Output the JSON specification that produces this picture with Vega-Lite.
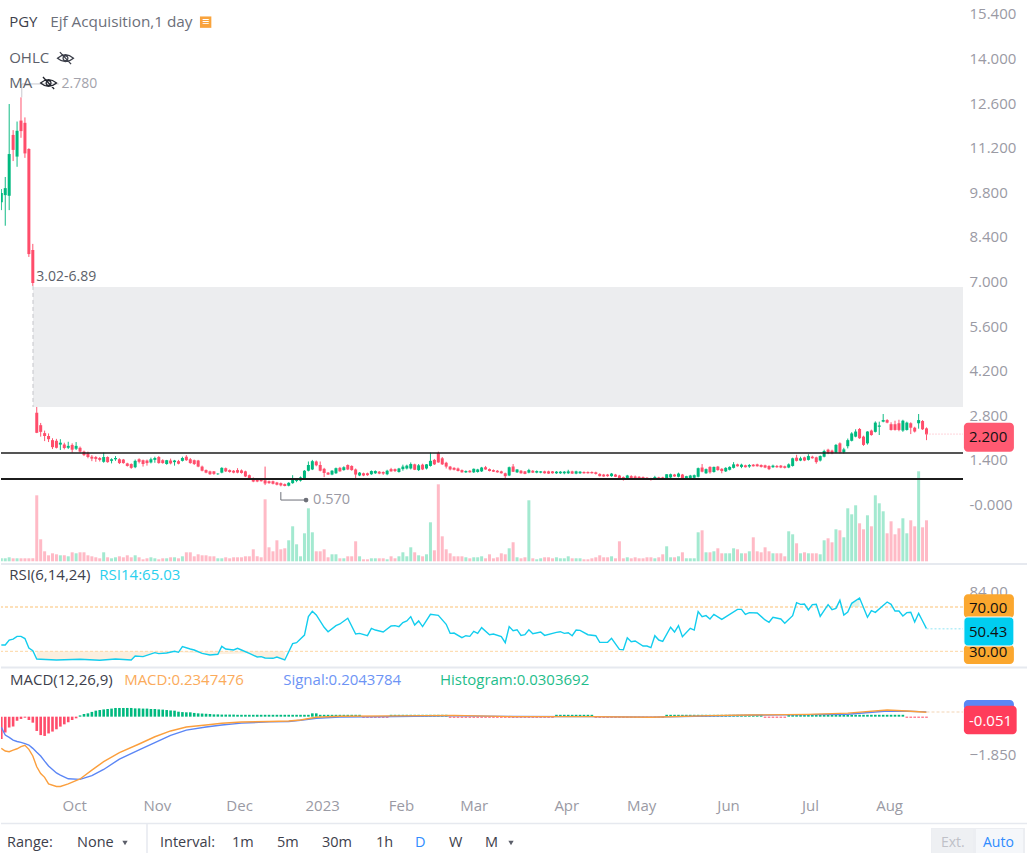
{
"$schema":"https://vega.github.io/schema/vega-lite/v6.json",
"padding":0,
"background":"white",
"spacing":0,
"bounds":"flush",
"config":{"view":{"stroke":null},"font":"Open Sans","scale":{"continuousPadding":0},
"axis":{"domain":false,"ticks":false,"grid":false,"labels":false,"title":null,"labelFont":"Open Sans","labelFontSize":15,"labelColor":"#9a9aa4"}},
"datasets":{
"candles":[
{"i":0,"o":9.49,"h":9.9,"l":9.24,"c":9.78,"v":3,"hist":-1.08},
{"i":1,"o":9.71,"h":10.28,"l":8.75,"c":9.93,"v":3,"hist":-0.76},
{"i":2,"o":9.69,"h":12.57,"l":9.24,"c":11.0,"v":4,"hist":-0.52},
{"i":3,"o":11.6,"h":11.75,"l":10.78,"c":11.13,"v":3,"hist":-0.48},
{"i":4,"o":10.92,"h":12.02,"l":10.6,"c":11.73,"v":3,"hist":-0.2},
{"i":5,"o":12.05,"h":12.78,"l":11.51,"c":11.72,"v":3,"hist":-0.11},
{"i":6,"o":11.98,"h":12.15,"l":10.88,"c":11.02,"v":3,"hist":-0.05},
{"i":7,"o":11.16,"h":11.18,"l":7.77,"c":7.86,"v":3,"hist":-0.16},
{"i":8,"o":7.99,"h":8.18,"l":6.86,"c":6.95,"v":3,"hist":-0.29},
{"i":9,"o":2.88,"h":3.06,"l":2.24,"c":2.25,"v":66,"hist":-0.69},
{"i":10,"o":2.49,"h":2.56,"l":2.13,"c":2.28,"v":22,"hist":-0.89},
{"i":11,"o":2.24,"h":2.32,"l":1.99,"c":2.15,"v":10,"hist":-0.93},
{"i":12,"o":2.15,"h":2.23,"l":1.96,"c":2.05,"v":6,"hist":-0.81},
{"i":13,"o":2.02,"h":2.08,"l":1.74,"c":1.8,"v":8,"hist":-0.72},
{"i":14,"o":2.0,"h":2.06,"l":1.76,"c":1.78,"v":7,"hist":-0.61},
{"i":15,"o":1.88,"h":2.05,"l":1.71,"c":1.94,"v":6,"hist":-0.48},
{"i":16,"o":1.88,"h":1.94,"l":1.73,"c":1.77,"v":6,"hist":-0.37},
{"i":17,"o":1.78,"h":1.97,"l":1.74,"c":1.84,"v":5,"hist":-0.27},
{"i":18,"o":1.87,"h":1.92,"l":1.63,"c":1.72,"v":9,"hist":-0.16},
{"i":19,"o":1.75,"h":1.96,"l":1.71,"c":1.84,"v":8,"hist":-0.08},
{"i":20,"o":1.78,"h":1.82,"l":1.63,"c":1.66,"v":9,"hist":0.06},
{"i":21,"o":1.66,"h":1.69,"l":1.52,"c":1.55,"v":9,"hist":0.13},
{"i":22,"o":1.61,"h":1.66,"l":1.45,"c":1.49,"v":6,"hist":0.16},
{"i":23,"o":1.5,"h":1.55,"l":1.36,"c":1.44,"v":5,"hist":0.23},
{"i":24,"o":1.49,"h":1.52,"l":1.34,"c":1.43,"v":4,"hist":0.29},
{"i":25,"o":1.46,"h":1.49,"l":1.35,"c":1.4,"v":3,"hist":0.32},
{"i":26,"o":1.34,"h":1.63,"l":1.31,"c":1.49,"v":9,"hist":0.35},
{"i":27,"o":1.49,"h":1.51,"l":1.31,"c":1.33,"v":4,"hist":0.37},
{"i":28,"o":1.37,"h":1.45,"l":1.29,"c":1.42,"v":3,"hist":0.39},
{"i":29,"o":1.42,"h":1.52,"l":1.37,"c":1.46,"v":4,"hist":0.42},
{"i":30,"o":1.42,"h":1.45,"l":1.27,"c":1.3,"v":5,"hist":0.42},
{"i":31,"o":1.41,"h":1.43,"l":1.28,"c":1.3,"v":4,"hist":0.42},
{"i":32,"o":1.29,"h":1.31,"l":1.19,"c":1.21,"v":6,"hist":0.42},
{"i":33,"o":1.27,"h":1.29,"l":1.12,"c":1.15,"v":4,"hist":0.42},
{"i":34,"o":1.17,"h":1.41,"l":1.14,"c":1.37,"v":6,"hist":0.4},
{"i":35,"o":1.42,"h":1.45,"l":1.29,"c":1.34,"v":4,"hist":0.4},
{"i":36,"o":1.39,"h":1.41,"l":1.19,"c":1.27,"v":2,"hist":0.39},
{"i":37,"o":1.38,"h":1.41,"l":1.22,"c":1.3,"v":3,"hist":0.39},
{"i":38,"o":1.32,"h":1.47,"l":1.29,"c":1.42,"v":4,"hist":0.37},
{"i":39,"o":1.4,"h":1.5,"l":1.31,"c":1.46,"v":3,"hist":0.37},
{"i":40,"o":1.49,"h":1.52,"l":1.28,"c":1.3,"v":2,"hist":0.35},
{"i":41,"o":1.39,"h":1.42,"l":1.28,"c":1.3,"v":3,"hist":0.34},
{"i":42,"o":1.27,"h":1.4,"l":1.25,"c":1.39,"v":3,"hist":0.32},
{"i":43,"o":1.38,"h":1.44,"l":1.26,"c":1.29,"v":4,"hist":0.3},
{"i":44,"o":1.33,"h":1.4,"l":1.22,"c":1.38,"v":4,"hist":0.29},
{"i":45,"o":1.36,"h":1.4,"l":1.26,"c":1.28,"v":3,"hist":0.24},
{"i":46,"o":1.37,"h":1.5,"l":1.35,"c":1.46,"v":5,"hist":0.22},
{"i":47,"o":1.5,"h":1.55,"l":1.37,"c":1.39,"v":9,"hist":0.21},
{"i":48,"o":1.42,"h":1.46,"l":1.28,"c":1.3,"v":9,"hist":0.21},
{"i":49,"o":1.39,"h":1.41,"l":1.24,"c":1.27,"v":5,"hist":0.18},
{"i":50,"o":1.38,"h":1.4,"l":1.17,"c":1.19,"v":7,"hist":0.16},
{"i":51,"o":1.19,"h":1.22,"l":1.04,"c":1.06,"v":6,"hist":0.15},
{"i":52,"o":1.08,"h":1.1,"l":0.98,"c":1.0,"v":6,"hist":0.14},
{"i":53,"o":1.04,"h":1.06,"l":0.93,"c":0.95,"v":5,"hist":0.13},
{"i":54,"o":1.04,"h":1.05,"l":0.93,"c":0.96,"v":5,"hist":0.11},
{"i":55,"o":0.95,"h":0.98,"l":0.93,"c":0.97,"v":3,"hist":0.11},
{"i":56,"o":1.0,"h":1.17,"l":0.98,"c":1.15,"v":3,"hist":0.1},
{"i":57,"o":1.14,"h":1.16,"l":1.02,"c":1.04,"v":4,"hist":0.1},
{"i":58,"o":1.08,"h":1.1,"l":1.0,"c":1.02,"v":3,"hist":0.1},
{"i":59,"o":1.06,"h":1.08,"l":0.98,"c":1.0,"v":4,"hist":0.1},
{"i":60,"o":1.08,"h":1.14,"l":0.98,"c":1.0,"v":4,"hist":0.09},
{"i":61,"o":1.07,"h":1.1,"l":0.97,"c":0.99,"v":4,"hist":0.09},
{"i":62,"o":1.04,"h":1.06,"l":0.86,"c":0.88,"v":5,"hist":0.09},
{"i":63,"o":0.92,"h":0.94,"l":0.78,"c":0.8,"v":5,"hist":0.09},
{"i":64,"o":0.83,"h":0.85,"l":0.7,"c":0.72,"v":12,"hist":0.09},
{"i":65,"o":0.8,"h":0.82,"l":0.7,"c":0.72,"v":5,"hist":0.09},
{"i":66,"o":0.77,"h":0.8,"l":0.72,"c":0.73,"v":4,"hist":0.09},
{"i":67,"o":0.76,"h":1.19,"l":0.61,"c":0.66,"v":62,"hist":0.09},
{"i":68,"o":0.73,"h":0.75,"l":0.65,"c":0.67,"v":14,"hist":0.09},
{"i":69,"o":0.73,"h":0.75,"l":0.63,"c":0.65,"v":10,"hist":0.09},
{"i":70,"o":0.69,"h":0.71,"l":0.6,"c":0.62,"v":21,"hist":0.09},
{"i":71,"o":0.67,"h":0.69,"l":0.57,"c":0.6,"v":12,"hist":0.09},
{"i":72,"o":0.64,"h":0.66,"l":0.57,"c":0.58,"v":13,"hist":0.09},
{"i":73,"o":0.59,"h":0.7,"l":0.57,"c":0.68,"v":21,"hist":0.09},
{"i":74,"o":0.67,"h":0.92,"l":0.65,"c":0.77,"v":35,"hist":0.09},
{"i":75,"o":0.74,"h":0.82,"l":0.7,"c":0.8,"v":17,"hist":0.09},
{"i":76,"o":0.75,"h":0.88,"l":0.72,"c":0.85,"v":5,"hist":0.09},
{"i":77,"o":0.8,"h":1.08,"l":0.78,"c":1.06,"v":28,"hist":0.09},
{"i":78,"o":1.06,"h":1.35,"l":1.04,"c":1.24,"v":53,"hist":0.09},
{"i":79,"o":1.1,"h":1.4,"l":1.08,"c":1.36,"v":29,"hist":0.16},
{"i":80,"o":1.35,"h":1.38,"l":1.2,"c":1.23,"v":10,"hist":0.16},
{"i":81,"o":1.24,"h":1.35,"l":1.04,"c":1.06,"v":10,"hist":0.09},
{"i":82,"o":1.12,"h":1.15,"l":0.86,"c":0.99,"v":12,"hist":0.09},
{"i":83,"o":1.0,"h":1.02,"l":0.93,"c":0.94,"v":4,"hist":0.09},
{"i":84,"o":0.94,"h":1.08,"l":0.92,"c":1.06,"v":7,"hist":0.09},
{"i":85,"o":0.98,"h":1.16,"l":0.96,"c":1.14,"v":7,"hist":0.09},
{"i":86,"o":1.15,"h":1.18,"l":1.03,"c":1.04,"v":3,"hist":0.09},
{"i":87,"o":1.08,"h":1.2,"l":1.06,"c":1.17,"v":3,"hist":0.09},
{"i":88,"o":1.24,"h":1.26,"l":1.08,"c":1.1,"v":5,"hist":0.09},
{"i":89,"o":1.21,"h":1.23,"l":1.06,"c":1.08,"v":5,"hist":0.09},
{"i":90,"o":1.1,"h":1.13,"l":0.81,"c":0.94,"v":20,"hist":0.09},
{"i":91,"o":0.91,"h":1.02,"l":0.89,"c":1.0,"v":5,"hist":0.09},
{"i":92,"o":0.98,"h":1.0,"l":0.89,"c":0.91,"v":2,"hist":-0.05},
{"i":93,"o":0.98,"h":1.0,"l":0.9,"c":0.92,"v":2,"hist":-0.05},
{"i":94,"o":0.95,"h":1.07,"l":0.93,"c":1.05,"v":3,"hist":-0.05},
{"i":95,"o":0.98,"h":1.07,"l":0.96,"c":1.05,"v":3,"hist":-0.05},
{"i":96,"o":1.03,"h":1.05,"l":0.95,"c":0.97,"v":3,"hist":-0.05},
{"i":97,"o":1.02,"h":1.04,"l":0.93,"c":0.97,"v":3,"hist":-0.05},
{"i":98,"o":0.95,"h":1.09,"l":0.92,"c":1.06,"v":2,"hist":-0.05},
{"i":99,"o":1.11,"h":1.15,"l":1.03,"c":1.04,"v":5,"hist":0.09},
{"i":100,"o":1.11,"h":1.13,"l":1.02,"c":1.05,"v":3,"hist":0.09},
{"i":101,"o":1.02,"h":1.15,"l":1.0,"c":1.13,"v":5,"hist":0.09},
{"i":102,"o":1.11,"h":1.25,"l":1.06,"c":1.19,"v":9,"hist":0.09},
{"i":103,"o":1.13,"h":1.25,"l":1.1,"c":1.22,"v":5,"hist":0.09},
{"i":104,"o":1.13,"h":1.32,"l":1.1,"c":1.27,"v":14,"hist":0.09},
{"i":105,"o":1.26,"h":1.28,"l":1.08,"c":1.09,"v":9,"hist":0.09},
{"i":106,"o":1.08,"h":1.27,"l":1.05,"c":1.23,"v":6,"hist":0.09},
{"i":107,"o":1.25,"h":1.28,"l":1.08,"c":1.1,"v":5,"hist":0.09},
{"i":108,"o":1.13,"h":1.27,"l":1.1,"c":1.26,"v":7,"hist":0.09},
{"i":109,"o":1.21,"h":1.63,"l":1.19,"c":1.37,"v":39,"hist":0.09},
{"i":110,"o":1.4,"h":1.43,"l":1.24,"c":1.26,"v":11,"hist":0.09},
{"i":111,"o":1.61,"h":1.66,"l":1.31,"c":1.32,"v":77,"hist":0.09},
{"i":112,"o":1.45,"h":1.49,"l":1.24,"c":1.26,"v":25,"hist":0.09},
{"i":113,"o":1.31,"h":1.34,"l":1.13,"c":1.19,"v":12,"hist":0.09},
{"i":114,"o":1.19,"h":1.21,"l":1.07,"c":1.1,"v":8,"hist":-0.05},
{"i":115,"o":1.15,"h":1.17,"l":1.07,"c":1.09,"v":5,"hist":-0.05},
{"i":116,"o":1.13,"h":1.16,"l":1.04,"c":1.05,"v":5,"hist":-0.05},
{"i":117,"o":1.08,"h":1.1,"l":1.0,"c":1.01,"v":5,"hist":-0.05},
{"i":118,"o":1.01,"h":1.07,"l":0.99,"c":1.05,"v":4,"hist":-0.05},
{"i":119,"o":1.06,"h":1.08,"l":1.0,"c":1.01,"v":3,"hist":-0.05},
{"i":120,"o":1.01,"h":1.13,"l":0.99,"c":1.12,"v":4,"hist":-0.05},
{"i":121,"o":1.02,"h":1.12,"l":1.0,"c":1.1,"v":4,"hist":-0.05},
{"i":122,"o":1.04,"h":1.18,"l":1.02,"c":1.16,"v":5,"hist":-0.05},
{"i":123,"o":1.17,"h":1.21,"l":1.09,"c":1.1,"v":3,"hist":-0.05},
{"i":124,"o":1.11,"h":1.13,"l":1.04,"c":1.05,"v":7,"hist":-0.05},
{"i":125,"o":1.08,"h":1.1,"l":1.02,"c":1.03,"v":3,"hist":-0.05},
{"i":126,"o":1.06,"h":1.08,"l":1.0,"c":1.01,"v":4,"hist":-0.05},
{"i":127,"o":1.04,"h":1.06,"l":0.97,"c":0.98,"v":8,"hist":-0.05},
{"i":128,"o":0.98,"h":1.0,"l":0.83,"c":0.89,"v":7,"hist":-0.05},
{"i":129,"o":0.91,"h":1.19,"l":0.89,"c":1.17,"v":13,"hist":-0.05},
{"i":130,"o":1.19,"h":1.27,"l":1.02,"c":1.03,"v":19,"hist":-0.05},
{"i":131,"o":1.01,"h":1.11,"l":0.99,"c":1.1,"v":4,"hist":-0.05},
{"i":132,"o":1.06,"h":1.08,"l":0.97,"c":0.98,"v":3,"hist":-0.05},
{"i":133,"o":1.04,"h":1.05,"l":0.95,"c":0.96,"v":4,"hist":-0.05},
{"i":134,"o":1.0,"h":1.12,"l":0.98,"c":1.08,"v":61,"hist":-0.05},
{"i":135,"o":1.06,"h":1.08,"l":0.99,"c":1.0,"v":3,"hist":-0.05},
{"i":136,"o":1.0,"h":1.07,"l":0.98,"c":1.05,"v":2,"hist":-0.05},
{"i":137,"o":1.0,"h":1.05,"l":0.98,"c":1.04,"v":3,"hist":-0.05},
{"i":138,"o":1.04,"h":1.06,"l":0.97,"c":0.98,"v":4,"hist":-0.05},
{"i":139,"o":1.04,"h":1.06,"l":0.96,"c":0.97,"v":4,"hist":-0.05},
{"i":140,"o":1.04,"h":1.05,"l":0.97,"c":0.98,"v":3,"hist":-0.05},
{"i":141,"o":0.98,"h":1.05,"l":0.96,"c":1.03,"v":4,"hist":0.09},
{"i":142,"o":0.98,"h":1.05,"l":0.96,"c":1.03,"v":3,"hist":0.09},
{"i":143,"o":0.98,"h":1.05,"l":0.95,"c":1.03,"v":3,"hist":0.09},
{"i":144,"o":0.98,"h":1.09,"l":0.96,"c":1.04,"v":5,"hist":0.09},
{"i":145,"o":1.04,"h":1.06,"l":0.96,"c":0.97,"v":3,"hist":0.09},
{"i":146,"o":0.97,"h":1.06,"l":0.95,"c":1.04,"v":3,"hist":0.09},
{"i":147,"o":0.98,"h":1.05,"l":0.96,"c":1.03,"v":3,"hist":0.09},
{"i":148,"o":1.02,"h":1.04,"l":0.97,"c":0.98,"v":2,"hist":0.09},
{"i":149,"o":1.02,"h":1.04,"l":0.97,"c":0.98,"v":2,"hist":0.09},
{"i":150,"o":1.02,"h":1.04,"l":0.97,"c":0.98,"v":3,"hist":0.09},
{"i":151,"o":1.01,"h":1.03,"l":0.94,"c":0.96,"v":4,"hist":-0.05},
{"i":152,"o":0.96,"h":0.98,"l":0.88,"c":0.89,"v":6,"hist":-0.05},
{"i":153,"o":0.94,"h":0.96,"l":0.87,"c":0.88,"v":4,"hist":-0.05},
{"i":154,"o":0.94,"h":0.96,"l":0.87,"c":0.89,"v":4,"hist":-0.05},
{"i":155,"o":0.89,"h":0.99,"l":0.87,"c":0.97,"v":5,"hist":-0.05},
{"i":156,"o":0.94,"h":0.96,"l":0.86,"c":0.87,"v":3,"hist":-0.05},
{"i":157,"o":0.91,"h":0.93,"l":0.8,"c":0.82,"v":20,"hist":-0.05},
{"i":158,"o":0.86,"h":0.88,"l":0.75,"c":0.79,"v":3,"hist":-0.05},
{"i":159,"o":0.82,"h":0.93,"l":0.79,"c":0.91,"v":4,"hist":-0.05},
{"i":160,"o":0.89,"h":0.92,"l":0.8,"c":0.81,"v":3,"hist":-0.05},
{"i":161,"o":0.88,"h":0.91,"l":0.79,"c":0.81,"v":4,"hist":-0.05},
{"i":162,"o":0.87,"h":0.89,"l":0.8,"c":0.81,"v":3,"hist":-0.05},
{"i":163,"o":0.86,"h":0.88,"l":0.78,"c":0.8,"v":3,"hist":-0.05},
{"i":164,"o":0.84,"h":0.86,"l":0.77,"c":0.79,"v":4,"hist":-0.05},
{"i":165,"o":0.82,"h":0.84,"l":0.75,"c":0.77,"v":4,"hist":-0.05},
{"i":166,"o":0.8,"h":0.9,"l":0.78,"c":0.86,"v":3,"hist":-0.05},
{"i":167,"o":0.85,"h":0.87,"l":0.79,"c":0.8,"v":4,"hist":-0.05},
{"i":168,"o":0.85,"h":0.87,"l":0.8,"c":0.81,"v":7,"hist":-0.05},
{"i":169,"o":0.81,"h":0.95,"l":0.79,"c":0.95,"v":15,"hist":0.09},
{"i":170,"o":0.85,"h":0.97,"l":0.83,"c":0.95,"v":4,"hist":0.09},
{"i":171,"o":0.94,"h":0.96,"l":0.87,"c":0.88,"v":4,"hist":0.09},
{"i":172,"o":0.87,"h":1.0,"l":0.85,"c":0.97,"v":5,"hist":0.09},
{"i":173,"o":0.94,"h":0.96,"l":0.79,"c":0.81,"v":9,"hist":0.09},
{"i":174,"o":0.83,"h":0.9,"l":0.8,"c":0.89,"v":3,"hist":0.09},
{"i":175,"o":0.83,"h":0.93,"l":0.81,"c":0.91,"v":3,"hist":0.09},
{"i":176,"o":0.84,"h":0.94,"l":0.82,"c":0.92,"v":3,"hist":0.09},
{"i":177,"o":0.87,"h":1.16,"l":0.85,"c":1.14,"v":29,"hist":0.09},
{"i":178,"o":1.16,"h":1.27,"l":1.01,"c":1.03,"v":31,"hist":0.09},
{"i":179,"o":0.98,"h":1.13,"l":0.96,"c":1.11,"v":9,"hist":0.09},
{"i":180,"o":1.18,"h":1.2,"l":0.97,"c":1.01,"v":9,"hist":0.09},
{"i":181,"o":1.02,"h":1.19,"l":1.0,"c":1.18,"v":10,"hist":0.09},
{"i":182,"o":1.19,"h":1.21,"l":1.06,"c":1.08,"v":13,"hist":0.09},
{"i":183,"o":1.12,"h":1.14,"l":0.98,"c":1.05,"v":8,"hist":0.09},
{"i":184,"o":1.04,"h":1.17,"l":1.02,"c":1.15,"v":8,"hist":0.09},
{"i":185,"o":1.09,"h":1.2,"l":1.07,"c":1.18,"v":8,"hist":0.09},
{"i":186,"o":1.15,"h":1.33,"l":1.13,"c":1.26,"v":13,"hist":0.09},
{"i":187,"o":1.26,"h":1.28,"l":1.19,"c":1.2,"v":12,"hist":0.09},
{"i":188,"o":1.18,"h":1.28,"l":1.14,"c":1.25,"v":8,"hist":0.09},
{"i":189,"o":1.23,"h":1.25,"l":1.16,"c":1.17,"v":8,"hist":0.09},
{"i":190,"o":1.19,"h":1.27,"l":1.15,"c":1.24,"v":10,"hist":0.09},
{"i":191,"o":1.25,"h":1.27,"l":1.19,"c":1.2,"v":24,"hist":0.09},
{"i":192,"o":1.26,"h":1.28,"l":1.19,"c":1.2,"v":10,"hist":0.09},
{"i":193,"o":1.24,"h":1.26,"l":1.16,"c":1.18,"v":9,"hist":0.09},
{"i":194,"o":1.23,"h":1.25,"l":1.14,"c":1.16,"v":14,"hist":-0.05},
{"i":195,"o":1.21,"h":1.23,"l":1.08,"c":1.11,"v":10,"hist":-0.05},
{"i":196,"o":1.17,"h":1.25,"l":1.15,"c":1.22,"v":8,"hist":-0.05},
{"i":197,"o":1.21,"h":1.24,"l":1.15,"c":1.17,"v":8,"hist":-0.05},
{"i":198,"o":1.22,"h":1.24,"l":1.14,"c":1.16,"v":8,"hist":-0.05},
{"i":199,"o":1.2,"h":1.22,"l":1.13,"c":1.15,"v":5,"hist":-0.05},
{"i":200,"o":1.16,"h":1.29,"l":1.14,"c":1.26,"v":30,"hist":0.09},
{"i":201,"o":1.21,"h":1.47,"l":1.19,"c":1.45,"v":27,"hist":0.09},
{"i":202,"o":1.47,"h":1.56,"l":1.35,"c":1.37,"v":18,"hist":0.09},
{"i":203,"o":1.38,"h":1.5,"l":1.36,"c":1.45,"v":8,"hist":0.09},
{"i":204,"o":1.48,"h":1.5,"l":1.36,"c":1.38,"v":9,"hist":0.09},
{"i":205,"o":1.4,"h":1.58,"l":1.38,"c":1.52,"v":8,"hist":0.09},
{"i":206,"o":1.5,"h":1.53,"l":1.44,"c":1.45,"v":8,"hist":0.09},
{"i":207,"o":1.48,"h":1.5,"l":1.28,"c":1.33,"v":8,"hist":0.09},
{"i":208,"o":1.38,"h":1.54,"l":1.35,"c":1.52,"v":7,"hist":0.09},
{"i":209,"o":1.5,"h":1.72,"l":1.48,"c":1.68,"v":21,"hist":0.09},
{"i":210,"o":1.72,"h":1.75,"l":1.58,"c":1.62,"v":23,"hist":0.09},
{"i":211,"o":1.69,"h":1.72,"l":1.58,"c":1.61,"v":19,"hist":0.09},
{"i":212,"o":1.63,"h":1.9,"l":1.61,"c":1.87,"v":32,"hist":0.09},
{"i":213,"o":1.92,"h":1.95,"l":1.6,"c":1.64,"v":31,"hist":0.09},
{"i":214,"o":1.64,"h":1.78,"l":1.6,"c":1.73,"v":24,"hist":0.09},
{"i":215,"o":1.83,"h":2.07,"l":1.76,"c":2.02,"v":53,"hist":0.09},
{"i":216,"o":2.0,"h":2.27,"l":1.98,"c":2.23,"v":47,"hist":0.09},
{"i":217,"o":2.13,"h":2.36,"l":2.11,"c":2.29,"v":56,"hist":0.09},
{"i":218,"o":2.37,"h":2.4,"l":2.06,"c":2.08,"v":38,"hist":0.09},
{"i":219,"o":2.13,"h":2.16,"l":1.84,"c":1.87,"v":32,"hist":0.09},
{"i":220,"o":1.92,"h":2.3,"l":1.88,"c":2.29,"v":46,"hist":0.09},
{"i":221,"o":2.32,"h":2.35,"l":2.16,"c":2.18,"v":35,"hist":0.09},
{"i":222,"o":2.28,"h":2.61,"l":2.26,"c":2.57,"v":66,"hist":0.09},
{"i":223,"o":2.44,"h":2.6,"l":2.18,"c":2.48,"v":58,"hist":0.09},
{"i":224,"o":2.6,"h":2.84,"l":2.58,"c":2.65,"v":50,"hist":0.09},
{"i":225,"o":2.65,"h":2.68,"l":2.55,"c":2.57,"v":28,"hist":0.09},
{"i":226,"o":2.52,"h":2.58,"l":2.32,"c":2.34,"v":40,"hist":0.09},
{"i":227,"o":2.52,"h":2.63,"l":2.32,"c":2.34,"v":27,"hist":0.09},
{"i":228,"o":2.55,"h":2.66,"l":2.3,"c":2.34,"v":33,"hist":0.09},
{"i":229,"o":2.32,"h":2.66,"l":2.28,"c":2.63,"v":43,"hist":0.09},
{"i":230,"o":2.34,"h":2.6,"l":2.32,"c":2.57,"v":28,"hist":-0.05},
{"i":231,"o":2.55,"h":2.58,"l":2.21,"c":2.41,"v":41,"hist":-0.05},
{"i":232,"o":2.41,"h":2.44,"l":2.26,"c":2.29,"v":35,"hist":-0.05},
{"i":233,"o":2.55,"h":2.84,"l":2.38,"c":2.65,"v":90,"hist":-0.05},
{"i":234,"o":2.62,"h":2.65,"l":2.34,"c":2.36,"v":34,"hist":-0.05},
{"i":235,"o":2.39,"h":2.42,"l":2.02,"c":2.2,"v":41,"hist":-0.05}
],
"rsi":[
{"i":0,"rsi":35.7},{"i":1,"rsi":35.7},{"i":2,"rsi":40.2},{"i":3,"rsi":41},{"i":4,"rsi":43.5},{"i":5,"rsi":43.5},{"i":6,"rsi":41.5},{"i":7,"rsi":33},{"i":8,"rsi":30.5},{"i":9,"rsi":23},{"i":10,"rsi":22.8},{"i":14,"rsi":22.2},{"i":20,"rsi":22.8},{"i":25,"rsi":21.9},{"i":29,"rsi":23.1},{"i":33,"rsi":22.2},{"i":34,"rsi":25.8},{"i":36,"rsi":25.2},{"i":39,"rsi":28.8},{"i":40,"rsi":27.9},{"i":42,"rsi":28.5},{"i":44,"rsi":30},{"i":45,"rsi":29.1},{"i":46,"rsi":34.2},{"i":48,"rsi":32.1},{"i":49,"rsi":31.2},{"i":51,"rsi":28.2},{"i":53,"rsi":26.7},{"i":55,"rsi":27.3},{"i":56,"rsi":34.5},{"i":57,"rsi":32.1},{"i":59,"rsi":31.2},{"i":60,"rsi":32.7},{"i":61,"rsi":31.2},{"i":63,"rsi":28.2},{"i":65,"rsi":24.9},{"i":66,"rsi":25.2},{"i":67,"rsi":24},{"i":69,"rsi":23.7},{"i":70,"rsi":24.9},{"i":72,"rsi":22.2},{"i":74,"rsi":36.9},{"i":75,"rsi":37.8},{"i":77,"rsi":44.7},{"i":78,"rsi":61.3},{"i":79,"rsi":66.1},{"i":80,"rsi":62.8},{"i":82,"rsi":51.7},{"i":83,"rsi":47.7},{"i":85,"rsi":53.2},{"i":86,"rsi":54.7},
{"i":88,"rsi":59.8},{"i":90,"rsi":45.6},{"i":91,"rsi":46.2},{"i":93,"rsi":44.1},{"i":94,"rsi":50.7},{"i":95,"rsi":49.2},{"i":97,"rsi":47.4},{"i":99,"rsi":52.9},{"i":100,"rsi":53.2},{"i":101,"rsi":52.3},{"i":102,"rsi":55.9},{"i":103,"rsi":57.4},{"i":104,"rsi":61.3},{"i":105,"rsi":53.8},{"i":106,"rsi":57.4},{"i":107,"rsi":52.3},{"i":109,"rsi":63.4},{"i":111,"rsi":62.5},{"i":113,"rsi":54.4},{"i":114,"rsi":46.2},{"i":115,"rsi":46.5},{"i":117,"rsi":42.3},{"i":118,"rsi":44.1},{"i":119,"rsi":43.5},{"i":120,"rsi":48},{"i":121,"rsi":46.2},{"i":122,"rsi":51.4},{"i":124,"rsi":45},{"i":125,"rsi":45.6},{"i":127,"rsi":43.2},{"i":128,"rsi":37.8},{"i":129,"rsi":52.3},{"i":130,"rsi":48.6},{"i":131,"rsi":49.5},{"i":132,"rsi":44.4},{"i":133,"rsi":45},{"i":134,"rsi":49.5},{"i":135,"rsi":45.9},{"i":137,"rsi":47.4},{"i":138,"rsi":44.4},{"i":141,"rsi":47.1},{"i":142,"rsi":47.7},{"i":143,"rsi":46.2},{"i":144,"rsi":46.8},{"i":145,"rsi":44.1},{"i":146,"rsi":49.2},{"i":147,"rsi":48.9},{"i":149,"rsi":45},{"i":151,"rsi":44.1},{"i":152,"rsi":38.1},{"i":154,"rsi":38.1},{"i":155,"rsi":41.7},{"i":157,"rsi":31.8},{"i":158,"rsi":31.5},{"i":159,"rsi":42.3},{"i":160,"rsi":38.7},{"i":161,"rsi":39.3},{"i":163,"rsi":34.8},{"i":164,"rsi":34.8},{"i":165,"rsi":33.3},{"i":166,"rsi":44.1},{"i":167,"rsi":40.2},{"i":168,"rsi":39},{"i":170,"rsi":51.7},{"i":171,"rsi":47.4},{"i":172,"rsi":53.2},{"i":173,"rsi":43.2},
{"i":175,"rsi":50.7},{"i":176,"rsi":49.2},{"i":177,"rsi":65.8},{"i":178,"rsi":61.3},{"i":179,"rsi":62.2},{"i":180,"rsi":59.2},{"i":181,"rsi":63.4},{"i":183,"rsi":58.9},{"i":187,"rsi":67.9},{"i":188,"rsi":67.9},{"i":189,"rsi":63.4},{"i":190,"rsi":64.9},{"i":192,"rsi":64.6},{"i":194,"rsi":58.3},{"i":195,"rsi":56.2},{"i":196,"rsi":60.7},{"i":198,"rsi":59.2},{"i":199,"rsi":55.3},{"i":201,"rsi":62.2},{"i":202,"rsi":73.9},{"i":203,"rsi":72.4},{"i":204,"rsi":72.7},{"i":205,"rsi":67.3},{"i":206,"rsi":72.1},{"i":207,"rsi":72.4},{"i":208,"rsi":61.6},{"i":210,"rsi":72.1},{"i":211,"rsi":67.6},{"i":212,"rsi":68.8},{"i":213,"rsi":76},{"i":214,"rsi":62.8},{"i":215,"rsi":65.5},{"i":216,"rsi":73.3},{"i":218,"rsi":78.1},{"i":220,"rsi":60.7},{"i":221,"rsi":66.7},{"i":222,"rsi":65.2},{"i":225,"rsi":74.5},{"i":226,"rsi":72.4},{"i":227,"rsi":66.4},{"i":228,"rsi":66.4},{"i":229,"rsi":61.9},{"i":230,"rsi":64.9},{"i":231,"rsi":65.2},{"i":232,"rsi":56.5},{"i":233,"rsi":64.3},{"i":234,"rsi":57.4},{"i":235,"rsi":50.43}
],
"macd":[
{"i":0,"macd":-1.53,"signal":-0.52},{"i":1,"macd":-1.66,"signal":-0.89},{"i":2,"macd":-1.69,"signal":-1.0},{"i":3,"macd":-1.62,"signal":-1.13},{"i":4,"macd":-1.55,"signal":-1.2},{"i":5,"macd":-1.45,"signal":-1.24},{"i":6,"macd":-1.38,"signal":-1.3},{"i":7,"macd":-1.58,"signal":-1.37},{"i":8,"macd":-1.9,"signal":-1.53},{"i":9,"macd":-2.42,"signal":-1.72},{"i":10,"macd":-2.75,"signal":-1.9},{"i":11,"macd":-2.93,"signal":-2.15},{"i":12,"macd":-3.25,"signal":-2.38},{"i":14,"macd":-3.37,"signal":-2.72},{"i":15,"macd":-3.37,"signal":-2.82},{"i":17,"macd":-3.25,"signal":-3.0},{"i":20,"macd":-3.01,"signal":-3.03},{"i":23,"macd":-2.58,"signal":-2.85},{"i":26,"macd":-2.17,"signal":-2.55},{"i":30,"macd":-1.74,"signal":-2.05},{"i":35,"macd":-1.32,"signal":-1.6},{"i":39,"macd":-0.97,"signal":-1.25},{"i":43,"macd":-0.69,"signal":-0.9},{"i":47,"macd":-0.5,"signal":-0.65},{"i":52,"macd":-0.4,"signal":-0.5},{"i":56,"macd":-0.32,"signal":-0.4},{"i":61,"macd":-0.26,"signal":-0.31},{"i":68,"macd":-0.23,"signal":-0.25},{"i":73,"macd":-0.21,"signal":-0.23},{"i":76,"macd":-0.16,"signal":-0.17},{"i":80,"macd":-0.03,"signal":-0.08},{"i":86,"macd":0.02,"signal":-0.02},{"i":100,"macd":0.04,"signal":0.01},{"i":115,"macd":0.06,"signal":0.04},{"i":130,"macd":0.0,"signal":0.01},{"i":150,"macd":0.0,"signal":0.0},{"i":165,"macd":-0.03,"signal":-0.02},{"i":180,"macd":0.05,"signal":0.03},{"i":190,"macd":0.08,"signal":0.07},{"i":205,"macd":0.11,"signal":0.1},{"i":215,"macd":0.17,"signal":0.12},{"i":225,"macd":0.32,"signal":0.27},{"i":230,"macd":0.27,"signal":0.26},{"i":235,"macd":0.21,"signal":0.23}
]
},
"vconcat":[
{"width":962,"height":565,"layer":[
{"data":{"name":"candles"},"mark":{"type":"bar","size":3,"clip":true},"encoding":{
"x":{"field":"i","type":"quantitative","scale":{"domain":[-0.08,244.27]}},
"y":{"field":"v","type":"quantitative","scale":{"domain":[-3.7,561.3]}},
"color":{"condition":{"test":"datum.c>=datum.o","value":"#a3e9d0"},"value":"#ffbac6"}}},
{"layer":[
{"data":{"values":[{}]},"mark":{"type":"rect","color":"#ecedef"},"encoding":{"x":{"datum":8.05,"scale":{"domain":[-0.08,244.27]}},"x2":{"datum":244.27},
"y":{"datum":6.83,"type":"quantitative","scale":{"domain":[-1.899,15.835]},"axis":{"labels":true,"title":null,"orient":"right","values":[15.4,14,12.6,11.2,9.8,8.4,7,5.6,4.2,2.8,1.4,0],"labelPadding":6,"labelExpr":"datum.value==0?'-0.000':format(datum.value,'.3f')"}},"y2":{"datum":3.06}}},
{"data":{"values":[{}]},"mark":{"type":"rule","color":"#c4c5ca","strokeDash":[4,3]},"encoding":{"x":{"datum":8.05,"scale":{"domain":[-0.08,244.27]}},"y":{"datum":6.86,"scale":{"domain":[-1.899,15.835]}},"y2":{"datum":3.06}}},
{"data":{"name":"candles"},"mark":{"type":"rule","strokeWidth":1,"clip":true},"encoding":{"x":{"field":"i","type":"quantitative","scale":{"domain":[-0.08,244.27]}},"y":{"field":"l","type":"quantitative","scale":{"domain":[-1.899,15.835]}},"y2":{"field":"h"},
"color":{"condition":{"test":"datum.c>=datum.o","value":"#10bb85"},"value":"#ff5470"}}},
{"data":{"name":"candles"},"mark":{"type":"bar","size":3,"clip":true},"encoding":{"x":{"field":"i","type":"quantitative","scale":{"domain":[-0.08,244.27]}},"y":{"field":"o","type":"quantitative","scale":{"domain":[-1.899,15.835]}},"y2":{"field":"c"},
"color":{"condition":{"test":"datum.c>=datum.o","value":"#00b97f"},"value":"#ff4d6b"}}},
{"data":{"values":[{}]},"layer":[
{"mark":{"type":"rule","color":"#1c1c1c","strokeWidth":1.5},"encoding":{"y":{"datum":1.62,"scale":{"domain":[-1.899,15.835]}}}},
{"mark":{"type":"rule","color":"#1c1c1c","strokeWidth":2},"encoding":{"y":{"datum":0.8,"scale":{"domain":[-1.899,15.835]}}}},
{"mark":{"type":"rule","color":"#ffa8b6","strokeDash":[1,2]},"encoding":{"x":{"datum":235,"scale":{"domain":[-0.08,244.27]}},"x2":{"datum":244.27},"y":{"datum":2.21,"scale":{"domain":[-1.899,15.835]}}}},
{"mark":{"type":"rule","color":"#e6e9ef","strokeWidth":2},"encoding":{"x":{"datum":-0.08,"scale":{"domain":[-0.08,244.27]}},"x2":{"datum":260.8},"y":{"datum":-1.87,"scale":{"domain":[-1.899,15.835]}}}},
{"mark":{"type":"rect","color":"#ff5a72","cornerRadius":4},"encoding":{"x":{"datum":244.5,"scale":{"domain":[-0.08,244.27]}},"x2":{"datum":257.2},"y":{"datum":2.567,"scale":{"domain":[-1.899,15.835]}},"y2":{"datum":1.657}}},
{"mark":{"type":"text","text":"2.200","align":"left","color":"#111111","fontSize":15},"encoding":{"x":{"datum":245.8,"scale":{"domain":[-0.08,244.27]}},"y":{"datum":2.12,"scale":{"domain":[-1.899,15.835]}}}},
{"mark":{"type":"rule","color":"#c8c8ce"},"encoding":{"x":{"datum":5.2,"scale":{"domain":[-0.08,244.27]}},"y":{"datum":12.78,"scale":{"domain":[-1.899,15.835]}},"y2":{"datum":13.2}}},
{"mark":{"type":"rule","color":"#c8c8ce"},"encoding":{"x":{"datum":5.2,"scale":{"domain":[-0.08,244.27]}},"x2":{"datum":14.6},"y":{"datum":13.2,"scale":{"domain":[-1.899,15.835]}}}},
{"mark":{"type":"text","text":"2.780","align":"left","color":"#a3a3ac","fontSize":14},"encoding":{"x":{"datum":15.3,"scale":{"domain":[-0.08,244.27]}},"y":{"datum":13.2,"scale":{"domain":[-1.899,15.835]}}}},
{"mark":{"type":"text","text":"3.02-6.89","align":"left","color":"#5c5f6a","fontSize":14},"encoding":{"x":{"datum":8.9,"scale":{"domain":[-0.08,244.27]}},"y":{"datum":7.14,"scale":{"domain":[-1.899,15.835]}}}},
{"mark":{"type":"rule","color":"#6e7079"},"encoding":{"x":{"datum":71,"scale":{"domain":[-0.08,244.27]}},"y":{"datum":0.39,"scale":{"domain":[-1.899,15.835]}},"y2":{"datum":0.14}}},
{"mark":{"type":"rule","color":"#6e7079"},"encoding":{"x":{"datum":71,"scale":{"domain":[-0.08,244.27]}},"x2":{"datum":77.2},"y":{"datum":0.14,"scale":{"domain":[-1.899,15.835]}}}},
{"mark":{"type":"point","filled":true,"color":"#6e7079","size":22,"opacity":1},"encoding":{"x":{"datum":77.4,"scale":{"domain":[-0.08,244.27]}},"y":{"datum":0.14,"scale":{"domain":[-1.899,15.835]}}}},
{"mark":{"type":"text","text":"0.570","align":"left","color":"#9a9aa4","fontSize":14.5},"encoding":{"x":{"datum":79.2,"scale":{"domain":[-0.08,244.27]}},"y":{"datum":0.14,"scale":{"domain":[-1.899,15.835]}}}},
{"mark":{"type":"text","text":"PGY","align":"left","color":"#3d404b","fontSize":15},"encoding":{"x":{"datum":2,"scale":{"domain":[-0.08,244.27]}},"y":{"datum":15.14,"scale":{"domain":[-1.899,15.835]}}}},
{"mark":{"type":"text","text":"Ejf Acquisition,1 day","align":"left","color":"#6c6f7a","fontSize":15.3},"encoding":{"x":{"datum":12.4,"scale":{"domain":[-0.08,244.27]}},"y":{"datum":15.14,"scale":{"domain":[-1.899,15.835]}}}},
{"mark":{"type":"point","shape":"square","filled":true,"color":"#f9a33c","size":130,"opacity":1},"encoding":{"x":{"datum":51.9,"scale":{"domain":[-0.08,244.27]}},"y":{"datum":15.14,"scale":{"domain":[-1.899,15.835]}}}},
{"mark":{"type":"text","text":"≡","color":"white","fontSize":13,"fontWeight":"bold"},"encoding":{"x":{"datum":51.9,"scale":{"domain":[-0.08,244.27]}},"y":{"datum":15.14,"scale":{"domain":[-1.899,15.835]}}}},
{"mark":{"type":"text","text":"OHLC","align":"left","color":"#5c5f6a","fontSize":15},"encoding":{"x":{"datum":2,"scale":{"domain":[-0.08,244.27]}},"y":{"datum":14.01,"scale":{"domain":[-1.899,15.835]}}}},
{"mark":{"type":"point","shape":"M-1,0Q0,-0.85 1,0Q0,0.85 -1,0ZM-0.3,0A0.3,0.3 0 1 0 0.3,0A0.3,0.3 0 1 0 -0.3,0ZM-0.7,-0.75L0.7,0.75","color":"#3d404b","size":256,"strokeWidth":1.3,"opacity":1},"encoding":{"x":{"datum":16.3,"scale":{"domain":[-0.08,244.27]}},"y":{"datum":14.01,"scale":{"domain":[-1.899,15.835]}}}},
{"mark":{"type":"text","text":"MA","align":"left","color":"#5c5f6a","fontSize":15},"encoding":{"x":{"datum":2,"scale":{"domain":[-0.08,244.27]}},"y":{"datum":13.23,"scale":{"domain":[-1.899,15.835]}}}},
{"mark":{"type":"point","shape":"M-1,0Q0,-0.85 1,0Q0,0.85 -1,0ZM-0.3,0A0.3,0.3 0 1 0 0.3,0A0.3,0.3 0 1 0 -0.3,0ZM-0.7,-0.75L0.7,0.75","color":"#23262f","size":256,"strokeWidth":1.3,"opacity":1},"encoding":{"x":{"datum":12,"scale":{"domain":[-0.08,244.27]}},"y":{"datum":13.23,"scale":{"domain":[-1.899,15.835]}}}}
]}
]}
],"resolve":{"scale":{"y":"independent"}}},
{"width":962,"height":103,"layer":[
{"data":{"name":"rsi"},"transform":[{"filter":"datum.i>=8 && datum.i<=73 && datum.rsi<=30"}],"mark":{"type":"area","color":"#fcefdf","clip":true},"encoding":{
"x":{"field":"i","type":"quantitative","scale":{"domain":[-0.08,244.27]}},
"y":{"field":"rsi","type":"quantitative","scale":{"domain":[14.95,107.9]},"axis":{"labels":true,"title":null,"orient":"right","values":[84],"format":".2f","labelPadding":6}},"y2":{"datum":30}}},
{"data":{"name":"rsi"},"transform":[{"filter":"datum.i>=216 && datum.i<=218"}],"mark":{"type":"area","color":"#dff5ec","clip":true},"encoding":{
"x":{"field":"i","type":"quantitative","scale":{"domain":[-0.08,244.27]}},"y":{"field":"rsi","type":"quantitative","scale":{"domain":[14.95,107.9]}},"y2":{"datum":70}}},
{"data":{"values":[{}]},"layer":[
{"mark":{"type":"rule","color":"#fdd6a2","strokeWidth":1.5,"strokeDash":[3,2]},"encoding":{"y":{"datum":70,"scale":{"domain":[14.95,107.9]}}}},
{"mark":{"type":"rule","color":"#fdd6a2","strokeWidth":1,"strokeDash":[3,2]},"encoding":{"y":{"datum":30,"scale":{"domain":[14.95,107.9]}}}}
]},
{"data":{"name":"rsi"},"mark":{"type":"line","color":"#12cdee","strokeWidth":1.4,"clip":true},"encoding":{"x":{"field":"i","type":"quantitative","scale":{"domain":[-0.08,244.27]}},"y":{"field":"rsi","type":"quantitative","scale":{"domain":[14.95,107.9]}}}},
{"data":{"values":[{}]},"layer":[
{"mark":{"type":"rule","color":"#b6eef8","strokeWidth":1.5,"strokeDash":[2,2]},"encoding":{"x":{"datum":235,"scale":{"domain":[-0.08,244.27]}},"x2":{"datum":244.27},"y":{"datum":50.43,"scale":{"domain":[14.95,107.9]}}}},
{"mark":{"type":"rect","color":"#fba72e","cornerRadius":4},"encoding":{"x":{"datum":244.5,"scale":{"domain":[-0.08,244.27]}},"x2":{"datum":257.2},"y":{"datum":81.5,"scale":{"domain":[14.95,107.9]}},"y2":{"datum":60}}},
{"mark":{"type":"rect","color":"#fba72e","cornerRadius":4},"encoding":{"x":{"datum":244.5,"scale":{"domain":[-0.08,244.27]}},"x2":{"datum":257.2},"y":{"datum":36,"scale":{"domain":[14.95,107.9]}},"y2":{"datum":18.6}}},
{"mark":{"type":"rect","color":"#00cdf0","cornerRadius":4,"stroke":"white","strokeWidth":1},"encoding":{"x":{"datum":244.5,"scale":{"domain":[-0.08,244.27]}},"x2":{"datum":257.2},"y":{"datum":61,"scale":{"domain":[14.95,107.9]}},"y2":{"datum":34.8}}},
{"mark":{"type":"text","text":"70.00","align":"left","color":"#111111","fontSize":15},"encoding":{"x":{"datum":245.8,"scale":{"domain":[-0.08,244.27]}},"y":{"datum":69.5,"scale":{"domain":[14.95,107.9]}}}},
{"mark":{"type":"text","text":"50.43","align":"left","color":"#111111","fontSize":15},"encoding":{"x":{"datum":245.8,"scale":{"domain":[-0.08,244.27]}},"y":{"datum":47.7,"scale":{"domain":[14.95,107.9]}}}},
{"mark":{"type":"text","text":"30.00","align":"left","color":"#111111","fontSize":15},"encoding":{"x":{"datum":245.8,"scale":{"domain":[-0.08,244.27]}},"y":{"datum":29.7,"scale":{"domain":[14.95,107.9]}}}},
{"mark":{"type":"text","text":"RSI(6,14,24)","align":"left","color":"#3d404b","fontSize":15},"encoding":{"x":{"datum":2,"scale":{"domain":[-0.08,244.27]}},"y":{"datum":98.9,"scale":{"domain":[14.95,107.9]}}}},
{"mark":{"type":"text","text":"RSI14:65.03","align":"left","color":"#2ad0ee","fontSize":15},"encoding":{"x":{"datum":24.9,"scale":{"domain":[-0.08,244.27]}},"y":{"datum":98.9,"scale":{"domain":[14.95,107.9]}}}},
{"mark":{"type":"rule","color":"#e6e9ef","strokeWidth":2},"encoding":{"x":{"datum":-0.08,"scale":{"domain":[-0.08,244.27]}},"x2":{"datum":260.8},"y":{"datum":15.4,"scale":{"domain":[14.95,107.9]}}}}
]}
]},
{"width":962,"height":155,"layer":[
{"data":{"name":"candles"},"mark":{"type":"bar","size":2.6,"clip":true},"encoding":{
"x":{"field":"i","type":"quantitative","scale":{"domain":[-0.08,244.27]},"axis":{"labels":true,"title":null,"orient":"bottom","values":[18.5,39.5,60.4,81.5,101.5,120,143.5,162.5,184.6,205.4,225.5],"labelPadding":-25,"labelAlign":"center","labelExpr":"{'18.5':'Oct','39.5':'Nov','60.4':'Dec','81.5':'2023','101.5':'Feb','120':'Mar','143.5':'Apr','162.5':'May','184.6':'Jun','205.4':'Jul','225.5':'Aug'}[datum.value]"}},
"y":{"field":"hist","type":"quantitative","scale":{"domain":[-5.135,2.35]},"axis":{"labels":true,"title":null,"orient":"right","values":[-1.85],"format":".3f","labelPadding":6}},
"color":{"condition":{"test":"datum.hist>=0","value":"#00b97f"},"value":"#ff4d6b"}}},
{"data":{"name":"macd"},"mark":{"type":"line","color":"#5b86f5","strokeWidth":1.4,"clip":true},"encoding":{"x":{"field":"i","type":"quantitative","scale":{"domain":[-0.08,244.27]}},"y":{"field":"signal","type":"quantitative","scale":{"domain":[-5.135,2.35]}}}},
{"data":{"name":"macd"},"mark":{"type":"line","color":"#fb9f3d","strokeWidth":1.4,"clip":true},"encoding":{"x":{"field":"i","type":"quantitative","scale":{"domain":[-0.08,244.27]}},"y":{"field":"macd","type":"quantitative","scale":{"domain":[-5.135,2.35]}}}},
{"data":{"values":[{}]},"layer":[
{"mark":{"type":"rule","color":"#f8e4ce","strokeWidth":1.5,"strokeDash":[3,2]},"encoding":{"x":{"datum":235,"scale":{"domain":[-0.08,244.27]}},"x2":{"datum":244.27},"y":{"datum":0.227,"scale":{"domain":[-5.135,2.35]}}}},
{"mark":{"type":"rect","color":"#5b86f5","cornerRadius":4},"encoding":{"x":{"datum":244.5,"scale":{"domain":[-0.08,244.27]}},"x2":{"datum":257.2},"y":{"datum":0.81,"scale":{"domain":[-5.135,2.35]}},"y2":{"datum":0.3}}},
{"mark":{"type":"rect","color":"#ff3d5b","cornerRadius":4},"encoding":{"x":{"datum":244.5,"scale":{"domain":[-0.08,244.27]}},"x2":{"datum":257.9},"y":{"datum":0.53,"scale":{"domain":[-5.135,2.35]}},"y2":{"datum":-0.85}}},
{"mark":{"type":"text","text":"-0.051","align":"left","color":"white","fontSize":15},"encoding":{"x":{"datum":245.8,"scale":{"domain":[-0.08,244.27]}},"y":{"datum":-0.19,"scale":{"domain":[-5.135,2.35]}}}},
{"mark":{"type":"text","text":"MACD(12,26,9)","align":"left","color":"#3d404b","fontSize":15},"encoding":{"x":{"datum":2.2,"scale":{"domain":[-0.08,244.27]}},"y":{"datum":1.77,"scale":{"domain":[-5.135,2.35]}}}},
{"mark":{"type":"text","text":"MACD:0.2347476","align":"left","color":"#fbab5b","fontSize":15},"encoding":{"x":{"datum":31.2,"scale":{"domain":[-0.08,244.27]}},"y":{"datum":1.77,"scale":{"domain":[-5.135,2.35]}}}},
{"mark":{"type":"text","text":"Signal:0.2043784","align":"left","color":"#6d94f5","fontSize":15},"encoding":{"x":{"datum":71.6,"scale":{"domain":[-0.08,244.27]}},"y":{"datum":1.77,"scale":{"domain":[-5.135,2.35]}}}},
{"mark":{"type":"text","text":"Histogram:0.0303692","align":"left","color":"#1fbd8b","fontSize":15},"encoding":{"x":{"datum":111.4,"scale":{"domain":[-0.08,244.27]}},"y":{"datum":1.77,"scale":{"domain":[-5.135,2.35]}}}}
]}
]},
{"width":1027,"height":30,"data":{"values":[{}]},"layer":[
{"mark":{"type":"rule","color":"#e6e9ef","strokeWidth":1.5},"encoding":{"x":{"datum":0,"scale":{"domain":[0,1027]}},"x2":{"datum":1027},"y":{"datum":0.5,"scale":{"domain":[30,0]}}}},
{"mark":{"type":"rule","color":"#e6e9ef","strokeWidth":1.5},"encoding":{"x":{"datum":146,"scale":{"domain":[0,1027]}},"y":{"datum":1,"scale":{"domain":[30,0]}},"y2":{"datum":30}}},
{"mark":{"type":"rect","color":"#eceef2"},"encoding":{"x":{"datum":930,"scale":{"domain":[0,1027]}},"x2":{"datum":1024},"y":{"datum":5,"scale":{"domain":[30,0]}},"y2":{"datum":30}}},
{"mark":{"type":"rect","color":"#eef0f3"},"encoding":{"x":{"datum":931,"scale":{"domain":[0,1027]}},"x2":{"datum":972},"y":{"datum":6,"scale":{"domain":[30,0]}},"y2":{"datum":30}}},
{"mark":{"type":"rect","color":"#f5f7fa"},"encoding":{"x":{"datum":975,"scale":{"domain":[0,1027]}},"x2":{"datum":1022},"y":{"datum":6,"scale":{"domain":[30,0]}},"y2":{"datum":30}}},
{"layer":[
{"mark":{"type":"text","text":"Range:","align":"left","fontSize":14.5,"color":"#3d404b"},"encoding":{"x":{"datum":6,"scale":{"domain":[0,1027]}}}},
{"mark":{"type":"text","text":"None","align":"left","fontSize":14.5,"color":"#3d404b"},"encoding":{"x":{"datum":76,"scale":{"domain":[0,1027]}}}},
{"mark":{"type":"text","text":"Interval:","align":"left","fontSize":14.5,"color":"#3d404b"},"encoding":{"x":{"datum":159,"scale":{"domain":[0,1027]}}}},
{"mark":{"type":"text","text":"1m","align":"left","fontSize":14.5,"color":"#3d404b"},"encoding":{"x":{"datum":231,"scale":{"domain":[0,1027]}}}},
{"mark":{"type":"text","text":"5m","align":"left","fontSize":14.5,"color":"#3d404b"},"encoding":{"x":{"datum":276,"scale":{"domain":[0,1027]}}}},
{"mark":{"type":"text","text":"30m","align":"left","fontSize":14.5,"color":"#3d404b"},"encoding":{"x":{"datum":321,"scale":{"domain":[0,1027]}}}},
{"mark":{"type":"text","text":"1h","align":"left","fontSize":14.5,"color":"#3d404b"},"encoding":{"x":{"datum":375,"scale":{"domain":[0,1027]}}}},
{"mark":{"type":"text","text":"D","align":"left","fontSize":14.5,"color":"#2f8cff"},"encoding":{"x":{"datum":414,"scale":{"domain":[0,1027]}}}},
{"mark":{"type":"text","text":"W","align":"left","fontSize":14.5,"color":"#3d404b"},"encoding":{"x":{"datum":448,"scale":{"domain":[0,1027]}}}},
{"mark":{"type":"text","text":"M","align":"left","fontSize":14.5,"color":"#3d404b"},"encoding":{"x":{"datum":484,"scale":{"domain":[0,1027]}}}},
{"mark":{"type":"text","text":"Ext.","align":"left","fontSize":14,"color":"#bfc1c8"},"encoding":{"x":{"datum":940,"scale":{"domain":[0,1027]}}}},
{"mark":{"type":"text","text":"Auto","align":"left","fontSize":14,"color":"#2f8cff"},"encoding":{"x":{"datum":982,"scale":{"domain":[0,1027]}}}},
{"mark":{"type":"point","shape":"triangle-down","filled":true,"color":"#5c5f6a","size":28,"opacity":1},"encoding":{"x":{"datum":124,"scale":{"domain":[0,1027]}}}},
{"mark":{"type":"point","shape":"triangle-down","filled":true,"color":"#5c5f6a","size":28,"opacity":1},"encoding":{"x":{"datum":510,"scale":{"domain":[0,1027]}}}}
],"encoding":{"y":{"datum":20,"scale":{"domain":[30,0]}}}}
]}
]
}
